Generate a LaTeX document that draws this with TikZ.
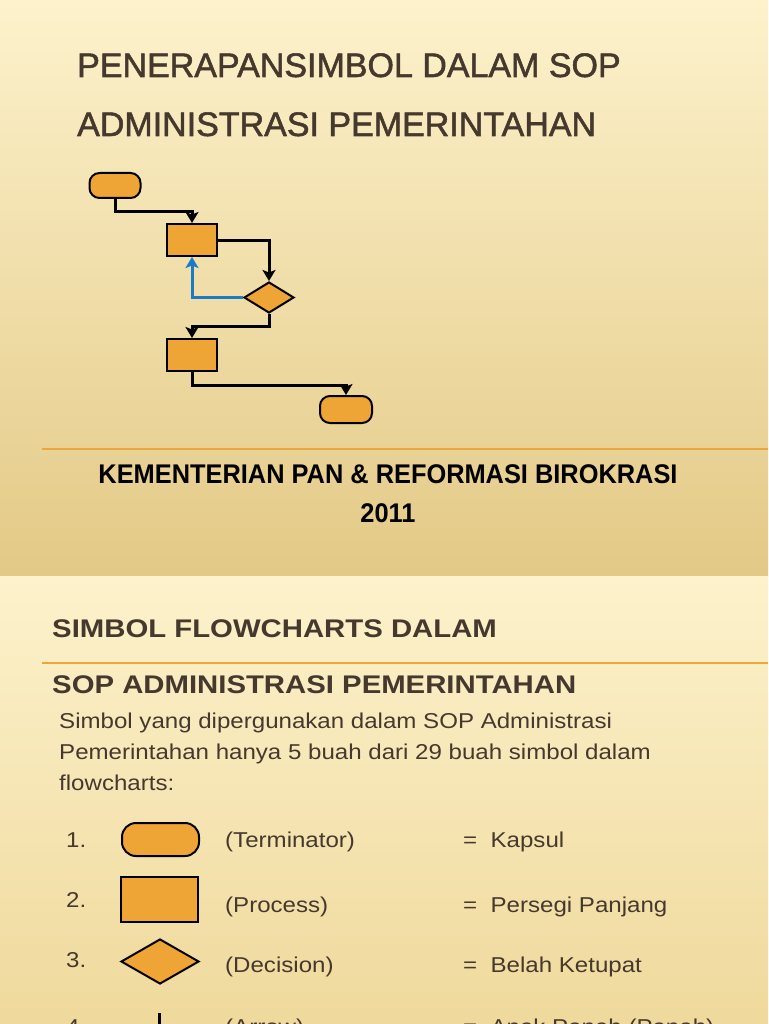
\documentclass[tikz,border=0pt]{standalone}
\usepackage{fontspec}
\setmainfont{Liberation Sans}
\newfontfamily\judulfont[FakeBold=1.5]{Liberation Sans}
\newfontfamily\subjudulfont[FakeStretch=1.15]{Liberation Sans}
\newfontfamily\isifont[FakeStretch=1.12]{Liberation Sans}
\newfontfamily\tebalfont[FakeStretch=0.94]{Liberation Sans}
\usetikzlibrary{shapes.geometric,arrows.meta}
\definecolor{oranye}{HTML}{EFA535}
\definecolor{garis}{HTML}{EDA53E}
\definecolor{biru}{HTML}{1C7BC6}
\definecolor{coklat}{HTML}{45392E}
\definecolor{latarA}{HTML}{FDF2CC}
\definecolor{latarB}{HTML}{F2DFA8}
\definecolor{latarC}{HTML}{E3C986}
\definecolor{latarD}{HTML}{EFD99C}
\newcommand{\ukuran}[1]{\fontsize{#1}{#1}\selectfont}
\tikzstyle{bentuk}=[draw=black,fill=oranye,inner sep=0pt,line width=#1]
\tikzstyle{kapsul}=[bentuk=2pt,rounded corners=10pt,minimum width=51pt,minimum height=25pt]
\tikzstyle{proses}=[bentuk=2pt,minimum width=50pt,minimum height=32pt]
\tikzstyle{putusan}=[bentuk=2pt,diamond,minimum width=50pt,minimum height=31pt]
\tikzstyle{teks}=[anchor=base west,inner sep=0pt,text=coklat]
\newcommand{\simbol}[4]{\node[#1,#4] (#2) at (#3) {};}
\newcommand{\alur}[4]{\draw[->,#1] (#2) #3 (#4);}
\newcommand{\baris}[3]{\node[teks,font=\isifont\ukuran{21.5}] (#1) at (#2) {#3};}

\begin{document}
\begin{tikzpicture}[x=1pt,y=-1pt,>={Stealth[length=11pt,width=13pt,inset=2.5pt]}]
    \useasboundingbox (0,0) rectangle (768,1024);
    \clip (0,0) rectangle (768,1024);
    \shade[top color=latarA,middle color=latarB,bottom color=latarC] (0,0) rectangle (768,576);
    \shade[top color=latarA,bottom color=latarD] (0,576) rectangle (768,1024);

    \node[teks,font=\judulfont\ukuran{34}] (j1) at (77,77) {PENERAPANSIMBOL DALAM SOP};
    \node[teks,font=\judulfont\ukuran{34}] (j2) at (77,136) {ADMINISTRASI PEMERINTAHAN};

    \simbol{kapsul}{mulai}{115,185.5}{}
    \simbol{proses}{p1}{192,240}{}
    \simbol{putusan}{d}{269,297.5}{}
    \simbol{proses}{p2}{192,355}{}
    \simbol{kapsul}{selesai}{346,409.5}{minimum width=52pt,minimum height=27pt}

    \alur{line width=3pt}{mulai.south}{-- ++(0,13) -|}{p1.north}
    \alur{line width=3pt}{p1.east}{-|}{d.north}
    \alur{line width=3pt,biru}{d.west}{-|}{p1.south}
    \alur{line width=3pt}{d.south}{-- ++(0,12) -|}{p2.north}
    \alur{line width=3pt}{p2.south}{-- ++(0,13) -|}{selesai.north}

    \draw[garis,line width=2pt] (42,449) -- (768,449);
    \node[anchor=base,inner sep=0pt,font=\tebalfont\bfseries\ukuran{27}] (kem) at (388,483) {KEMENTERIAN PAN \& REFORMASI BIROKRASI};
    \node[anchor=base,inner sep=0pt,font=\tebalfont\bfseries\ukuran{27}] (thn) at (388,522) {2011};

    \node[teks,font=\subjudulfont\bfseries\ukuran{25.5}] (j3) at (52,637) {SIMBOL FLOWCHARTS DALAM};
    \draw[garis,line width=2.5pt] (42,663) -- (768,663);
    \node[teks,font=\subjudulfont\bfseries\ukuran{25.5}] (j4) at (52,693) {SOP ADMINISTRASI PEMERINTAHAN};

    \baris{b1}{59,728}{Simbol yang dipergunakan dalam SOP Administrasi}
    \baris{b2}{59,759}{Pemerintahan hanya 5 buah dari 29 buah simbol dalam}
    \baris{b3}{59,790}{flowcharts:}

    \baris{n1}{66,847}{1.}
    \simbol{kapsul}{k1}{160.5,839.5}{rounded corners=14pt,minimum width=77pt,minimum height=33pt}
    \baris{t1}{225,847}{(Terminator)}
    \baris{a1}{463,847}{= ~Kapsul}

    \baris{n2}{66,907}{2.}
    \simbol{proses}{k2}{159.5,899.5}{bentuk=2.5pt,minimum width=77pt,minimum height=45pt}
    \baris{t2}{225,912}{(Process)}
    \baris{a2}{463,912}{= ~Persegi Panjang}

    \baris{n3}{66,967}{3.}
    \simbol{putusan}{k3}{160,961.5}{minimum width=78pt,minimum height=45pt}
    \baris{t3}{225,972}{(Decision)}
    \baris{a3}{463,972}{= ~Belah Ketupat}

    \baris{n4}{66,1034}{4.}
    \coordinate (k4) at (159,1013);
    \draw[line width=3pt] (k4) -- ++(0,30);
    \baris{t4}{225,1034}{(Arrow)}
    \baris{a4}{463,1034}{= ~Anak Panah (Panah)}
\end{tikzpicture}
\end{document}
